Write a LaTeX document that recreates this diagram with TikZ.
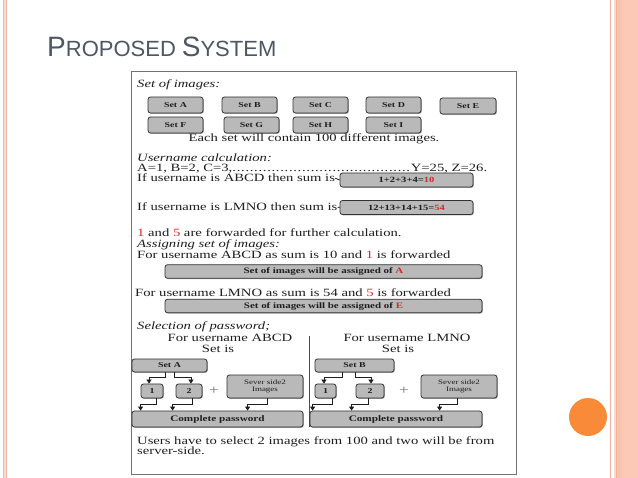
\documentclass[tikz,border=0pt]{standalone}
\usepackage{fontspec}
\setmainfont[FakeStretch=1.32]{Liberation Serif}
\newfontfamily\titlefont{Liberation Sans}
\usetikzlibrary{arrows.meta,calc,shadows}
\definecolor{ink}{HTML}{1E1E1E}
\definecolor{redmark}{HTML}{D42A2E}
\definecolor{boxgray}{HTML}{B9B9B9}
\definecolor{titlegray}{HTML}{4E5664}
\definecolor{rimpink}{HTML}{FCC9B6}
\definecolor{rimmid}{HTML}{FBC2AC}
\definecolor{rimdark}{HTML}{F2B39D}
\definecolor{rimpale}{HTML}{FADCD1}
\definecolor{bullet}{HTML}{F98A38}
\newcommand{\hl}[1]{\textcolor{redmark}{#1}}
\newcommand{\tcap}[2]{{\fontsize{28}{30}\selectfont #1}{\fontsize{22}{30}\selectfont #2}}

\begin{document}
\begin{tikzpicture}[x=1pt,y=-1pt,
  txt/.style={anchor=base west, inner sep=0pt, text=ink, font=\fontsize{11.1}{10}\selectfont},
  heading/.style={txt, font=\fontsize{11.1}{10}\selectfont\itshape},
  centred/.style={txt, anchor=base},
  grayb/.style={draw=black!80, fill=boxgray, rounded corners=2.5pt, line width=0.8pt,
                inner sep=0pt, text=ink, align=center,
                drop shadow={shadow xshift=0.8pt, shadow yshift=-0.8pt, fill=black!50, opacity=0.7}},
  setbox/.style={grayb, minimum width=55pt, minimum height=16pt, font=\fontsize{7.5}{8}\selectfont\bfseries},
  sumbox/.style={grayb, minimum width=133pt, minimum height=14pt, font=\fontsize{8}{9}\selectfont\bfseries},
  assignbox/.style={grayb, minimum width=317pt, minimum height=13.5pt, font=\fontsize{8.3}{9}\selectfont\bfseries},
  pickbox/.style={grayb, minimum height=13pt, font=\fontsize{7.5}{8}\selectfont\bfseries},
  numbox/.style={grayb, minimum height=14pt, font=\fontsize{7.5}{8}\selectfont\bfseries},
  serverbox/.style={grayb, minimum width=76pt, minimum height=23pt, font=\fontsize{6.8}{7.5}\selectfont},
  passbox/.style={grayb, minimum height=16pt, font=\fontsize{8.5}{9}\selectfont\bfseries},
  plus/.style={inner sep=0pt, text=black!55, font=\fontsize{13}{13}\selectfont},
  link/.style={draw=ink, line width=0.8pt, -{Triangle[width=5pt,length=4pt]}}
]
\useasboundingbox (0,0) rectangle (638,478);
\fill[white] (0,0) rectangle (638,478);

\fill[rimpale] (3,0) rectangle (7,478);
\draw[rimdark, line width=0.8pt] (3.4,0) -- (3.4,478) (6.6,0) -- (6.6,478);
\draw[rimdark, line width=1.3pt] (610.8,0) -- (610.8,478);
\fill[rimpink] (614,0) rectangle (638,478);
\fill[rimpale] (614,0) rectangle (616,478);
\fill[rimdark] (616,0) rectangle (617.4,478);
\fill[rimmid] (617.4,0) rectangle (621.8,478);
\fill[bullet] (588,417) circle[radius=19pt];

\node[anchor=base west, inner sep=0pt, text=titlegray, font=\titlefont] (title) at (47,57)
    {\tcap{P}{ROPOSED}\hspace{6pt}\tcap{S}{YSTEM}};

\draw[black!55, line width=0.9pt] (131,71) rectangle (516,474);

\node[heading] (imghead) at (137,88) {Set of images:};
\node[setbox] (seta) at (175.5,105) {Set A};
\node[setbox] (setb) at (249.5,105) {Set B};
\node[setbox] (setc) at (320.5,105) {Set C};
\node[setbox] (setd) at (393.5,105) {Set D};
\node[setbox, minimum width=56pt] (sete) at (468,106) {Set E};
\node[setbox] (setf) at (175.5,125) {Set F};
\node[setbox] (setg) at (251.5,125) {Set G};
\node[setbox] (seth) at (320.5,125) {Set H};
\node[setbox] (seti) at (393.5,125) {Set I};
\node[centred] (eachset) at (314,141.5) {Each set will contain 100 different images.};

\node[heading] (calchead) at (137,162) {Username calculation:};
\node[txt] (alpha) at (137,172)
    {\makebox[350pt][l]{A=1, B=2, C=3,\xleaders\hbox{.\kern0.6pt}\hfill Y=25, Z=26.}};
\node[txt] (sumtxta) at (137,182) {If username is ABCD then sum is};
\node[sumbox] (suma) at (406.5,180) {1+2+3+4=\hl{10}};
\draw[ink, line width=0.8pt] (sumtxta.east) -- (suma.west);
\node[txt] (sumtxtb) at (137,211) {If username is LMNO then sum is};
\node[sumbox] (sumb) at (406.5,207.5) {12+13+14+15=\hl{54}};
\draw[ink, line width=0.8pt] (sumtxtb.east) -- (sumb.west);
\node[txt] (fwd) at (137,237) {\hl{1} and \hl{5} are forwarded for further calculation.};

\node[heading] (assignhead) at (137,247.5) {Assigning set of images:};
\node[txt] (assigntxta) at (137,258.5) {For username ABCD as sum is 10 and \hl{1} is forwarded};
\node[assignbox] (assigna) at (323.5,271.5) {Set of images will be assigned of \hl{A}};
\node[txt] (assigntxtb) at (135,296.5) {For username LMNO as sum is 54 and \hl{5} is forwarded};
\node[assignbox] (assignb) at (323.5,306) {Set of images will be assigned of \hl{E}};

\node[heading] (pwhead) at (137,330) {Selection of password;};
\node[centred] (usera) at (230,341.5) {For username ABCD};
\node[centred] (setisa) at (218,352.5) {Set is};
\node[centred] (userb) at (407,341.5) {For username LMNO};
\node[centred] (setisb) at (398,352.5) {Set is};
\draw[black!70, line width=0.8pt] (309,336) -- (309,427);

\node[pickbox, minimum width=75pt] (pseta) at (169.5,365.5) {Set A};
\node[numbox, minimum width=22pt] (onea) at (152,391) {1};
\node[numbox, minimum width=26pt] (twoa) at (189,391) {2};
\node[plus] (plusa) at (214,391) {+};
\node[serverbox] (srva) at (265,386.5) {Sever side2\\Images};
\node[passbox, minimum width=171pt] (pwa) at (217.5,419) {Complete password};

\node[pickbox, minimum width=79pt] (psetb) at (354.5,365.5) {Set B};
\node[numbox, minimum width=21pt] (oneb) at (325.5,391) {1};
\node[numbox, minimum width=28pt] (twob) at (370,391) {2};
\node[plus] (plusb) at (404,391) {+};
\node[serverbox] (srvb) at (459,386.5) {Sever side2\\Images};
\node[passbox, minimum width=172pt] (pwb) at (396,419) {Complete password};

\draw[link] ([xshift=-4pt]pseta.south) -- ++(0,-5pt) -| ([xshift=-3pt]onea.north);
\draw[link] ([xshift=5pt]pseta.south) -- ++(0,-5pt) -| ([xshift=2pt]twoa.north);
\draw[link] ([xshift=4pt]onea.south) -- ++(0,-6pt) -| (pwa.north -| onea.west);
\draw[link] ([xshift=3pt]twoa.south) -- ++(0,-6pt) -| ($(pwa.north -| twoa.west)+(-3pt,0)$);
\draw[link] ([xshift=2pt]srva.south) -- ++(0,-6pt) -| ($(pwa.north -| srva.west)+(21pt,0)$);

\draw[link] ([xshift=-12.5pt]psetb.south) -- ++(0,-5pt) -| ([xshift=-1.5pt]oneb.north);
\draw[link] ([xshift=0.5pt]psetb.south) -- ++(0,-5pt) -| ([xshift=1pt]twob.north);
\draw[link] ([xshift=6.5pt]oneb.south) -- ++(0,-6pt) -| ($(pwb.north -| oneb.west)+(-2pt,0)$);
\draw[link] ([xshift=-2pt]twob.south) -- ++(0,-6pt) -| ($(pwb.north -| twob.west)+(-4pt,0)$);
\draw[link] ([xshift=-2pt]srvb.south) -- ++(0,-6pt) -| ($(pwb.north -| srvb.west)+(19pt,0)$);

\node[txt] (usersnote) at (137,445) {Users have to select 2 images from 100 and two will be from};
\node[txt] (serverside) at (137,455) {server-side.};
\end{tikzpicture}
\end{document}
